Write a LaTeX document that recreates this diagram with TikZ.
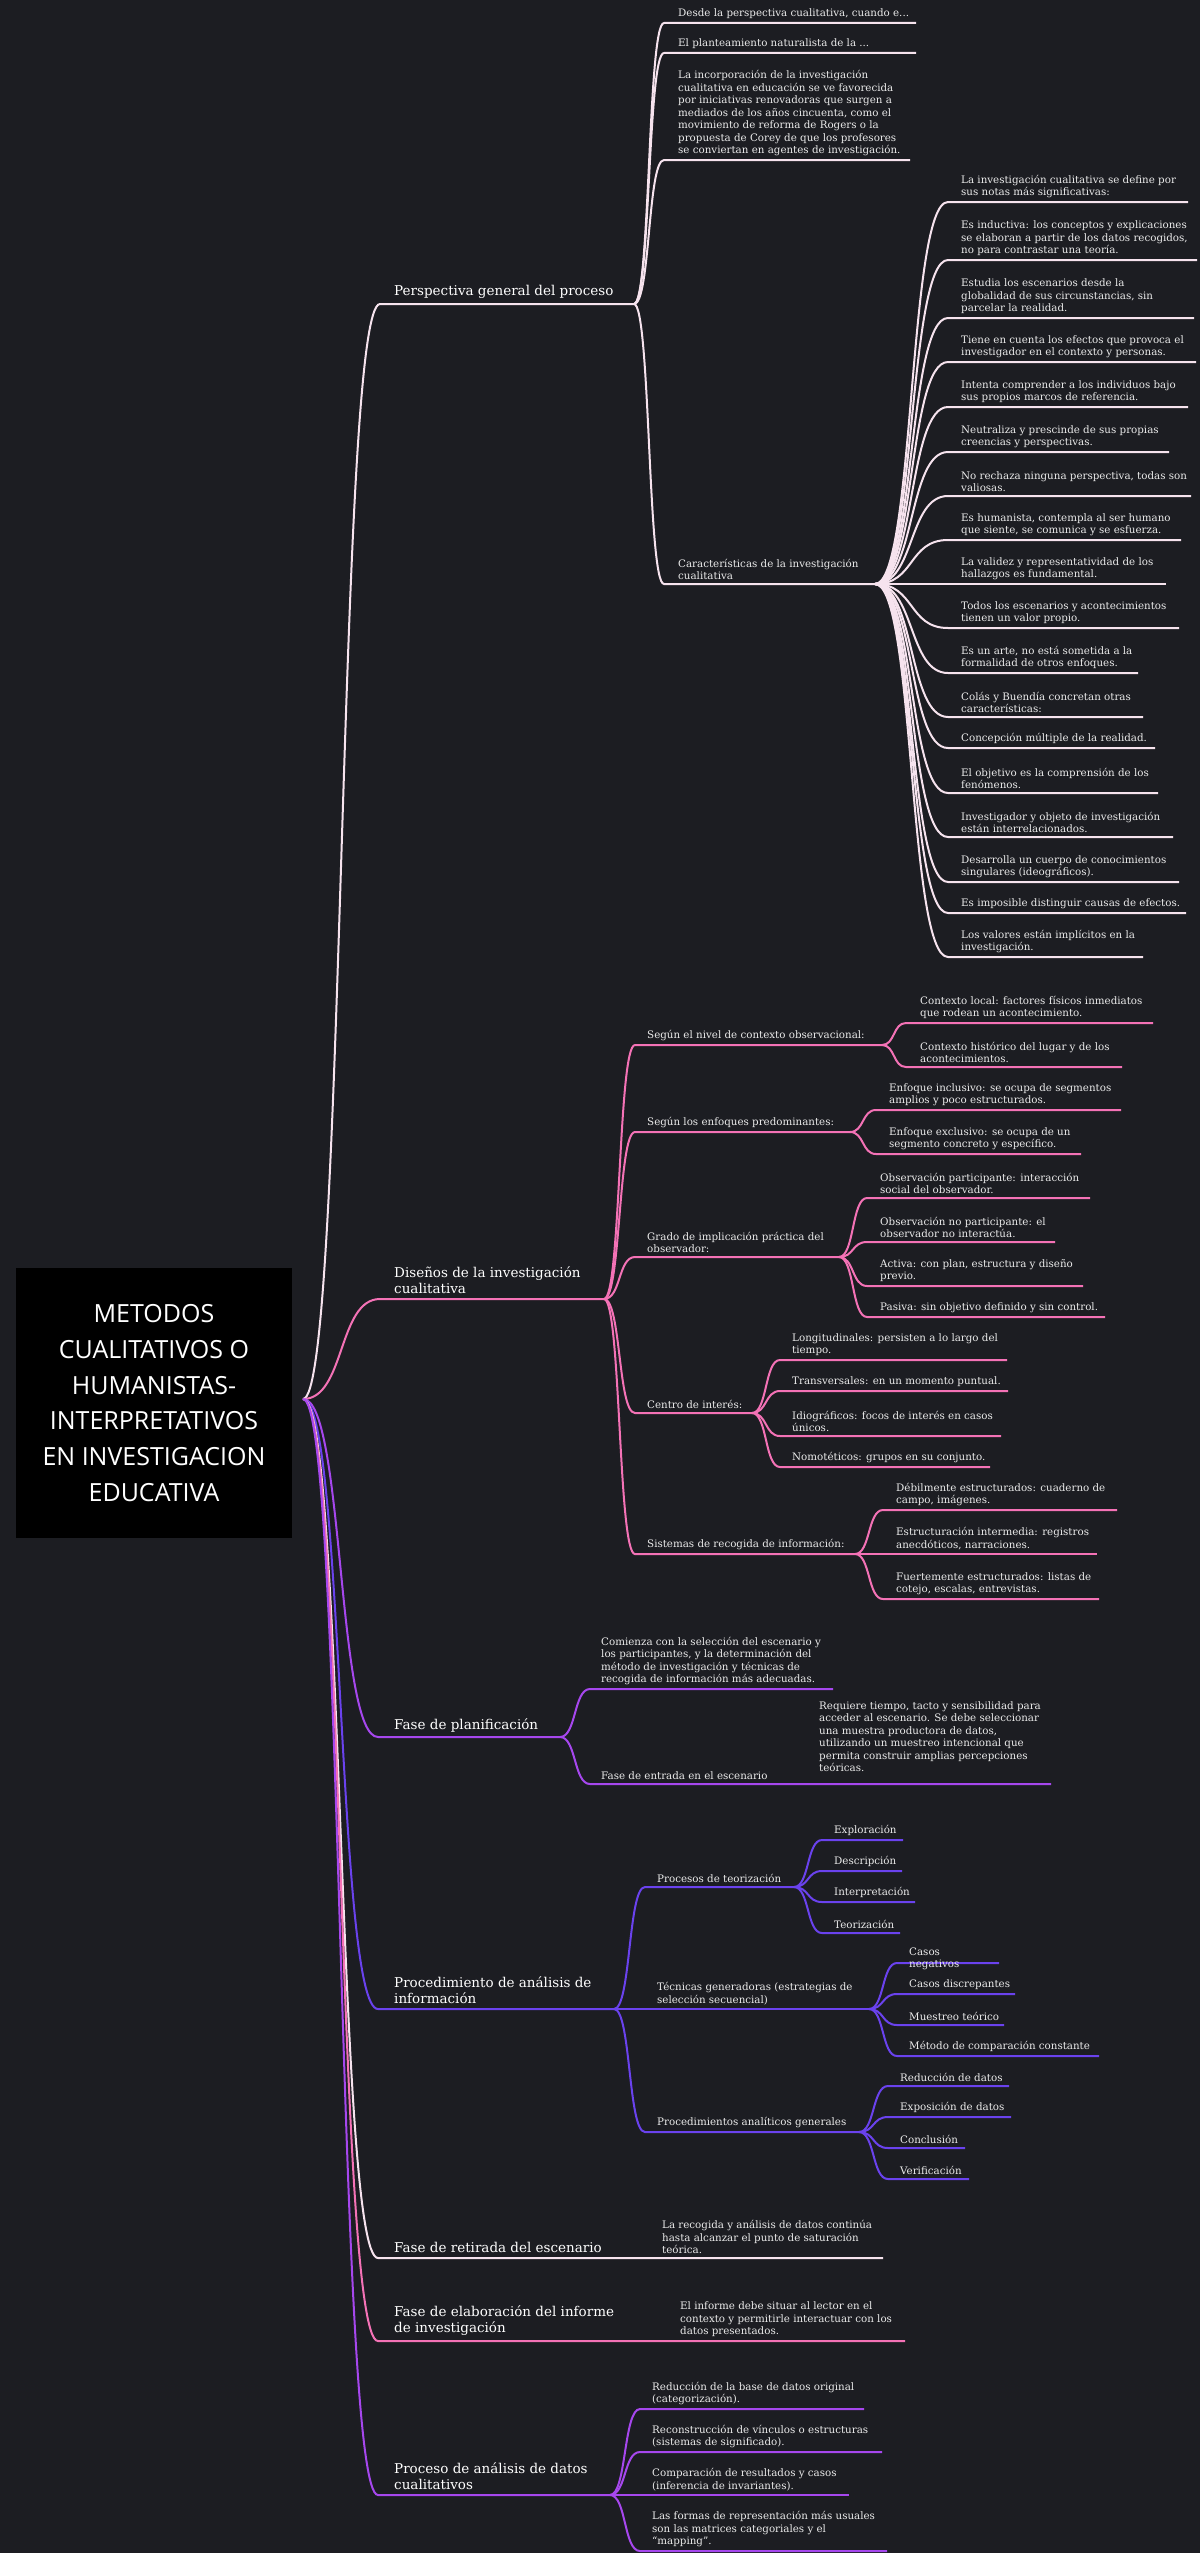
\documentclass[tikz,border=0pt]{standalone}
\usepackage{fontspec}
\setmainfont{DejaVu Serif}
\newfontfamily\rootfont{Open Sans}
\usetikzlibrary{calc}
\definecolor{bg}{HTML}{1C1D22}
\definecolor{cA}{HTML}{F6E3EE}
\definecolor{cB}{HTML}{F472B6}
\definecolor{cC}{HTML}{A647EE}
\definecolor{cD}{HTML}{6A42EE}
\tikzset{
 lt/.style={inner sep=0pt,align=left,text=white!92!black,font=\fontsize{10.3}{12.5}\selectfont},
 mt/.style={inner sep=0pt,align=left,text=white,font=\fontsize{13.5}{16}\selectfont},
 wA/.style={draw=cA,line width=2pt},
 wB/.style={draw=cB,line width=2pt},
 wC/.style={draw=cC,line width=2pt},
 wD/.style={draw=cD,line width=2pt},
}
% #1 style, #2 parent, #3 name, #4 sx, #5 y, #6 ex
\newcommand\kid[6]{%
 \coordinate (#3s) at (#4,#5); \coordinate (#3) at (#6,#5);
 \draw[#1] let \p1=(#2),\p2=(#3s),\n1={0.55*(\x2-\x1)} in (#2) .. controls +(\n1,0) and +(-\n1,0) .. (#3s) -- (#3);}
% #1 style,#2 parent,#3 name,#4 sx,#5 y,#6 ex,#7 textx,#8 text
\newcommand\leaf[8]{\kid{#1}{#2}{#3}{#4}{#5}{#6}%
 \node[lt,anchor=south west] (#3t) at (#7,#5-4) {#8};}
\newcommand\mleaf[8]{\kid{#1}{#2}{#3}{#4}{#5}{#6}%
 \node[mt,anchor=south west] (#3t) at (#7,#5-5) {#8};}
\begin{document}
\begin{tikzpicture}[x=1pt,y=-1pt]
\fill[bg] (0,0) rectangle (1200,2553);
\useasboundingbox (0,0) rectangle (1200,2553);
\node[fill=black,minimum width=276,minimum height=270,inner sep=0pt,align=center,text=white,font=\rootfont\fontsize{25}{35.7}\selectfont] (root) at (154,1403)
 {METODOS\\CUALITATIVOS O\\HUMANISTAS-\\INTERPRETATIVOS\\EN INVESTIGACION\\EDUCATIVA};
\coordinate (R) at (303,1399);
% main branches
\mleaf{wA}{R}{P}{380}{304}{634}{394}{Perspectiva general del proceso}
\mleaf{wB}{R}{D}{380}{1299}{604}{394}{Diseños de la investigación\\cualitativa}
\mleaf{wC}{R}{F}{378}{1737}{560}{394}{Fase de planificación}
\mleaf{wD}{R}{Pr}{378}{2009}{614}{394}{Procedimiento de análisis de\\información}
\mleaf{wA}{R}{Re}{378}{2258}{883}{394}{Fase de retirada del escenario}
\node[lt,anchor=south west] (Rel) at (662,2254) {La recogida y análisis de datos continúa\\hasta alcanzar el punto de saturación\\teórica.};
\mleaf{wB}{R}{El}{378}{2341}{905}{394}{Fase de elaboración del informe\\de investigación}
\node[lt,anchor=south west] (Ell) at (680,2337) {El informe debe situar al lector en el\\contexto y permitirle interactuar con los\\datos presentados.};
\mleaf{wC}{R}{Pc}{378}{2495}{610}{394}{Proceso de análisis de datos\\cualitativos}
% Perspectiva
\leaf{wA}{P}{P1}{664}{23}{916}{678}{Desde la perspectiva cualitativa, cuando e...}
\leaf{wA}{P}{P2}{664}{53}{916}{678}{El planteamiento naturalista de la ...}
\leaf{wA}{P}{P3}{664}{160}{910}{678}{La incorporación de la investigación\\cualitativa en educación se ve favorecida\\por iniciativas renovadoras que surgen a\\mediados de los años cincuenta, como el\\movimiento de reforma de Rogers o la\\propuesta de Corey de que los profesores\\se conviertan en agentes de investigación.}
\leaf{wA}{P}{Car}{664}{584}{875}{678}{Características de la investigación\\cualitativa}
\leaf{wA}{Car}{c1}{948}{202}{1188}{961}{La investigación cualitativa se define por\\sus notas más significativas:}
\leaf{wA}{Car}{c2}{948}{260}{1197}{961}{Es inductiva: los conceptos y explicaciones\\se elaboran a partir de los datos recogidos,\\no para contrastar una teoría.}
\leaf{wA}{Car}{c3}{948}{318}{1194}{961}{Estudia los escenarios desde la\\globalidad de sus circunstancias, sin\\parcelar la realidad.}
\leaf{wA}{Car}{c4}{948}{362}{1196}{961}{Tiene en cuenta los efectos que provoca el\\investigador en el contexto y personas.}
\leaf{wA}{Car}{c5}{948}{407}{1188}{961}{Intenta comprender a los individuos bajo\\sus propios marcos de referencia.}
\leaf{wA}{Car}{c6}{948}{452}{1169}{961}{Neutraliza y prescinde de sus propias\\creencias y perspectivas.}
\leaf{wA}{Car}{c7}{948}{496}{1191}{961}{No rechaza ninguna perspectiva, todas son\\valiosas.}
\leaf{wA}{Car}{c8}{948}{540}{1181}{961}{Es humanista, contempla al ser humano\\que siente, se comunica y se esfuerza.}
\leaf{wA}{Car}{c9}{948}{584}{1166}{961}{La validez y representatividad de los\\hallazgos es fundamental.}
\leaf{wA}{Car}{c10}{948}{628}{1179}{961}{Todos los escenarios y acontecimientos\\tienen un valor propio.}
\leaf{wA}{Car}{c11}{948}{673}{1138}{961}{Es un arte, no está sometida a la\\formalidad de otros enfoques.}
\leaf{wA}{Car}{c12}{948}{717}{1143}{961}{Colás y Buendía concretan otras\\características:}
\leaf{wA}{Car}{c13}{948}{748}{1155}{961}{Concepción múltiple de la realidad.}
\leaf{wA}{Car}{c14}{948}{793}{1158}{961}{El objetivo es la comprensión de los\\fenómenos.}
\leaf{wA}{Car}{c15}{948}{837}{1173}{961}{Investigador y objeto de investigación\\están interrelacionados.}
\leaf{wA}{Car}{c16}{948}{882}{1179}{961}{Desarrolla un cuerpo de conocimientos\\singulares (ideográficos).}
\leaf{wA}{Car}{c17}{948}{913}{1186}{961}{Es imposible distinguir causas de efectos.}
\leaf{wA}{Car}{c18}{948}{957}{1143}{961}{Los valores están implícitos en la\\investigación.}
% Diseños
\leaf{wB}{D}{N}{635}{1045}{882}{647}{Según el nivel de contexto observacional:}
\leaf{wB}{N}{n1}{906}{1023}{1153}{920}{Contexto local: factores físicos inmediatos\\que rodean un acontecimiento.}
\leaf{wB}{N}{n2}{906}{1067}{1122}{920}{Contexto histórico del lugar y de los\\acontecimientos.}
\leaf{wB}{D}{E}{635}{1132}{850}{647}{Según los enfoques predominantes:}
\leaf{wB}{E}{e1}{876}{1110}{1121}{889}{Enfoque inclusivo: se ocupa de segmentos\\amplios y poco estructurados.}
\leaf{wB}{E}{e2}{876}{1154}{1081}{889}{Enfoque exclusivo: se ocupa de un\\segmento concreto y específico.}
\leaf{wB}{D}{G}{635}{1257}{839}{647}{Grado de implicación práctica del\\observador:}
\leaf{wB}{G}{g1}{867}{1198}{1090}{880}{Observación participante: interacción\\social del observador.}
\leaf{wB}{G}{g2}{867}{1242}{1055}{880}{Observación no participante: el\\observador no interactúa.}
\leaf{wB}{G}{g3}{867}{1286}{1083}{880}{Activa: con plan, estructura y diseño\\previo.}
\leaf{wB}{G}{g4}{867}{1317}{1105}{880}{Pasiva: sin objetivo definido y sin control.}
\leaf{wB}{D}{C}{635}{1413}{752}{647}{Centro de interés:}
\leaf{wB}{C}{i1}{780}{1360}{1007}{792}{Longitudinales: persisten a lo largo del\\tiempo.}
\leaf{wB}{C}{i2}{780}{1391}{1008}{792}{Transversales: en un momento puntual.}
\leaf{wB}{C}{i3}{780}{1436}{1001}{792}{Idiográficos: focos de interés en casos\\únicos.}
\leaf{wB}{C}{i4}{780}{1467}{990}{792}{Nomotéticos: grupos en su conjunto.}
\leaf{wB}{D}{S}{635}{1554}{855}{647}{Sistemas de recogida de información:}
\leaf{wB}{S}{s1}{883}{1510}{1117}{896}{Débilmente estructurados: cuaderno de\\campo, imágenes.}
\leaf{wB}{S}{s2}{883}{1554}{1097}{896}{Estructuración intermedia: registros\\anecdóticos, narraciones.}
\leaf{wB}{S}{s3}{883}{1599}{1099}{896}{Fuertemente estructurados: listas de\\cotejo, escalas, entrevistas.}
% Planificación
\leaf{wC}{F}{f1}{590}{1689}{833}{601}{Comienza con la selección del escenario y\\los participantes, y la determinación del\\método de investigación y técnicas de\\recogida de información más adecuadas.}
\leaf{wC}{F}{f2}{590}{1784}{1051}{601}{Fase de entrada en el escenario}
\node[lt,anchor=south west] (f2l) at (819,1772) {Requiere tiempo, tacto y sensibilidad para\\acceder al escenario. Se debe seleccionar\\una muestra productora de datos,\\utilizando un muestreo intencional que\\permita construir amplias percepciones\\teóricas.};
% Procedimiento
\leaf{wD}{Pr}{PT}{645}{1887}{794}{657}{Procesos de teorización}
\leaf{wD}{PT}{t1}{822}{1840}{903}{834}{Exploración}
\leaf{wD}{PT}{t2}{822}{1871}{902}{834}{Descripción}
\leaf{wD}{PT}{t3}{822}{1902}{915}{834}{Interpretación}
\leaf{wD}{PT}{t4}{822}{1933}{900}{834}{Teorización}
\leaf{wD}{Pr}{TG}{645}{2009}{869}{657}{Técnicas generadoras (estrategias de\\selección secuencial)}
\kid{wD}{TG}{g1x}{897}{1963}{999}
\node[lt,anchor=south west] (g1xt) at (909,1970) {Casos\\negativos};
\leaf{wD}{TG}{g2x}{897}{1994}{1015}{909}{Casos discrepantes}
\leaf{wD}{TG}{g3x}{897}{2025}{1004}{909}{Muestreo teórico}
\leaf{wD}{TG}{g4x}{897}{2056}{1099}{909}{Método de comparación constante}
\leaf{wD}{Pr}{PA}{645}{2132}{859}{657}{Procedimientos analíticos generales}
\leaf{wD}{PA}{a1}{888}{2086}{1009}{900}{Reducción de datos}
\leaf{wD}{PA}{a2}{888}{2117}{1011}{900}{Exposición de datos}
\leaf{wD}{PA}{a3}{888}{2148}{965}{900}{Conclusión}
\leaf{wD}{PA}{a4}{888}{2179}{969}{900}{Verificación}
% Proceso
\leaf{wC}{Pc}{q1}{640}{2409}{864}{652}{Reducción de la base de datos original\\(categorización).}
\leaf{wC}{Pc}{q2}{640}{2452}{882}{652}{Reconstrucción de vínculos o estructuras\\(sistemas de significado).}
\leaf{wC}{Pc}{q3}{640}{2495}{849}{652}{Comparación de resultados y casos\\(inferencia de invariantes).}
\leaf{wC}{Pc}{q4}{640}{2551}{887}{652}{Las formas de representación más usuales\\son las matrices categoriales y el\\“mapping”.}
\end{tikzpicture}
\end{document}
